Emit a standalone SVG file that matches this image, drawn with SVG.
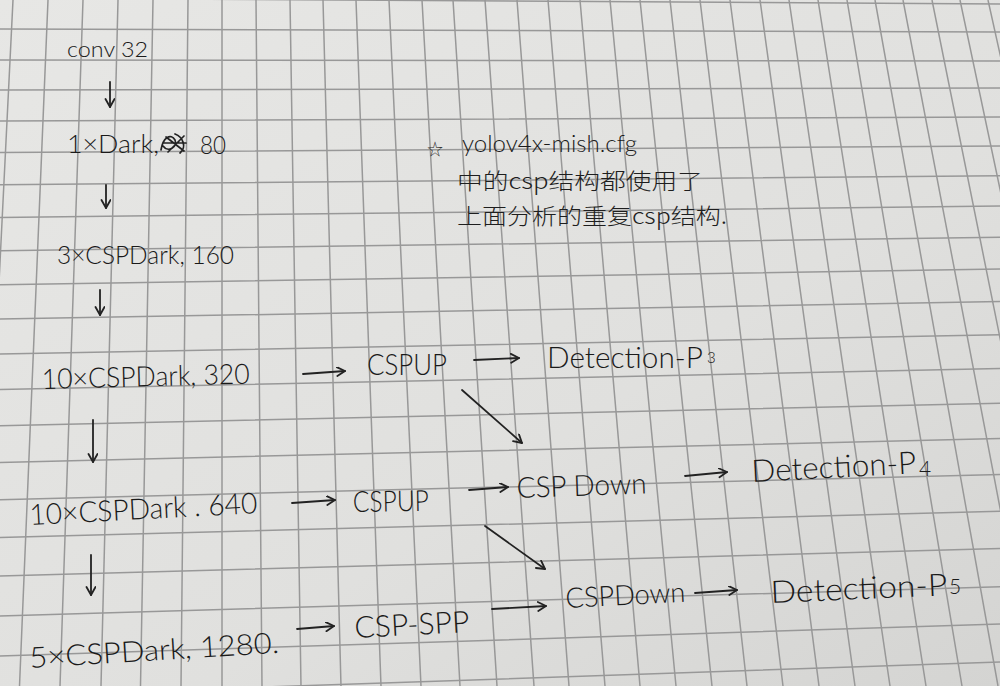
<svg xmlns="http://www.w3.org/2000/svg" width="1000" height="686" viewBox="0 0 1000 686">
<defs>
<linearGradient id="paper" x1="0" y1="0" x2="1" y2="1">
<stop offset="0" stop-color="#e7e7e5"/>
<stop offset="0.6" stop-color="#e0e0de"/>
<stop offset="1" stop-color="#d4d4d2"/>
</linearGradient>
<marker id="ah" markerUnits="userSpaceOnUse" markerWidth="14" markerHeight="14" refX="9" refY="5" orient="auto">
<path d="M1,0.5 L9,5 L1,9.5" fill="none" stroke="#222" stroke-width="1.8" stroke-linecap="round" stroke-linejoin="round"/>
</marker>
<style>
.t{font-family:"Lato","Liberation Sans","Noto Sans CJK SC",sans-serif;font-weight:300;fill:#1a1a1a;}
.c{font-family:"Noto Sans CJK SC","Liberation Sans",sans-serif;fill:#1e1e1e;font-weight:300;}
.e{fill:none;stroke:#222;stroke-width:1.8;stroke-linecap:round;marker-end:url(#ah);}
.g{fill:none;stroke:#989898;stroke-width:1.5;}
</style>
</defs>
<rect width="1000" height="686" fill="url(#paper)"/>
<g id="grid">
<path class="g" d="M13 0L-21 686M48 0L19.5 686M83 0L60 686M118 0L101 686M153 0L140.5 686M188 0L181 686M222 0L222 686M256 0L262 686M290 0L301 686M323 0L341 686M356 0L381 686M389 0L421 686M422 0L460 686M453 0L497 686M485 0L534 686M517 0L569 686M548 0L605 686M580 0L640 686M610 0L676 686M640 0L712 686M670 0L747 686M700 0L783 686M730 0L819 686M760 0L855 686M789 0L890 686M818 0L926 686M847 0L962 686M875 0L998 686M903 0L1034 686M932 0L1070 686M960 0L1105 686M988 0L1140 686"/>
<path class="g" d="M0 -2L1000 4M0 29L1000 32M0 60L1000 61M0 90L1000 88M0 121L1000 117M0 152.6L1000 146M0 184.8L1000 175.7M0 217.5L1000 206.1M0 250.8L1000 237.2M0 284.7L1000 269M0 319.1L1000 301.5M0 354.1L1000 334.7M0 389.6L1000 368.6M0 425.7L1000 403.2M0 462.4L1000 438.5M0 499.7L1000 474.5M0 537.5L1000 511.2M0 576L1000 548.6M0 616L1000 586.7M0 656L1000 624M0 696L1000 662"/>
</g>
<g id="connectors">
<line class="e" x1="110" y1="82" x2="110" y2="107"/>
<line class="e" x1="106" y1="185" x2="106" y2="208"/>
<line class="e" x1="100" y1="290" x2="100" y2="315"/>
<line class="e" x1="303" y1="374" x2="345" y2="371"/>
<line class="e" x1="474" y1="360" x2="519" y2="358"/>
<line class="e" x1="462" y1="390" x2="522" y2="443"/>
<line class="e" x1="93" y1="420" x2="93" y2="462"/>
<line class="e" x1="292" y1="503" x2="335" y2="500"/>
<line class="e" x1="469" y1="490" x2="508" y2="487"/>
<line class="e" x1="685" y1="476" x2="727" y2="472"/>
<line class="e" x1="485" y1="526" x2="545" y2="569"/>
<line class="e" x1="91" y1="555" x2="91" y2="595"/>
<line class="e" x1="297" y1="629" x2="334" y2="626"/>
<line class="e" x1="492" y1="609" x2="546" y2="606"/>
<line class="e" x1="695" y1="593" x2="737" y2="590"/>
</g>
<g id="conv32"><text class="t" x="67" y="57" font-size="22" textLength="81" lengthAdjust="spacingAndGlyphs">conv 32</text></g>
<g id="dark1">
<text class="t" x="67" y="153" font-size="26" textLength="92" lengthAdjust="spacingAndGlyphs">1×Dark,</text>
<path d="M161,150 C163,137 171,133 175,140 C178,147 168,153 163,146 M166,137 L184,151 M168,152 L184,136 M175,134 C183,137 187,147 180,153 M163,143 L186,143" fill="none" stroke="#222" stroke-width="1.7" stroke-linecap="round"/>
<text class="t" x="200" y="154" font-size="26" textLength="26" lengthAdjust="spacingAndGlyphs">80</text>
</g>
<g id="cspdark160"><text class="t" x="57" y="264" font-size="26" textLength="177" lengthAdjust="spacingAndGlyphs">3×CSPDark, 160</text></g>
<g id="cspdark320"><text class="t" x="42" y="389" font-size="28" textLength="208" lengthAdjust="spacingAndGlyphs" transform="rotate(-1.5 42 389)">10×CSPDark, 320</text></g>
<g id="cspdark640"><text class="t" x="30" y="525" font-size="29" textLength="228" lengthAdjust="spacingAndGlyphs" transform="rotate(-3 30 525)">10×CSPDark . 640</text></g>
<g id="cspdark1280"><text class="t" x="30" y="668" font-size="29" textLength="250" lengthAdjust="spacingAndGlyphs" transform="rotate(-3.5 30 668)">5×CSPDark, 1280.</text></g>
<g id="cspup1"><text class="t" x="367" y="375" font-size="29" textLength="80" lengthAdjust="spacingAndGlyphs">CSPUP</text></g>
<g id="det3">
<text class="t" x="547" y="368" font-size="29" textLength="156" lengthAdjust="spacingAndGlyphs">Detection-P</text>
<text class="t" x="707" y="363" font-size="15">3</text>
</g>
<g id="cspup2"><text class="t" x="353" y="512" font-size="29" textLength="76" lengthAdjust="spacingAndGlyphs" transform="rotate(-1 353 512)">CSPUP</text></g>
<g id="cspdown1"><text class="t" x="517" y="498" font-size="29" textLength="130" lengthAdjust="spacingAndGlyphs" transform="rotate(-2 517 498)">CSP Down</text></g>
<g id="det4">
<text class="t" x="752" y="482" font-size="31" textLength="165" lengthAdjust="spacingAndGlyphs" transform="rotate(-3 752 482)">Detection-P</text>
<text class="t" x="919" y="476" font-size="21">4</text>
</g>
<g id="cspspp"><text class="t" x="355" y="638" font-size="30" textLength="115" lengthAdjust="spacingAndGlyphs" transform="rotate(-3 355 638)">CSP-SPP</text></g>
<g id="cspdown2"><text class="t" x="566" y="608" font-size="28" textLength="120" lengthAdjust="spacingAndGlyphs" transform="rotate(-3 566 608)">CSPDown</text></g>
<g id="det5">
<text class="t" x="771" y="603" font-size="31" textLength="177" lengthAdjust="spacingAndGlyphs" transform="rotate(-2.5 771 603)">Detection-P</text>
<text class="t" x="949" y="594" font-size="21">5</text>
</g>
<g id="note">
<text class="c" x="427" y="155" font-size="16">☆</text>
<text class="t" x="462" y="152" font-size="24" textLength="175" lengthAdjust="spacingAndGlyphs">yolov4x-mish.cfg</text>
<text class="c" x="457" y="189" font-size="22" textLength="246" lengthAdjust="spacingAndGlyphs">中的csp结构都使用了</text>
<text class="c" x="457" y="224" font-size="22" textLength="270" lengthAdjust="spacingAndGlyphs">上面分析的重复csp结构.</text>
</g>
</svg>
